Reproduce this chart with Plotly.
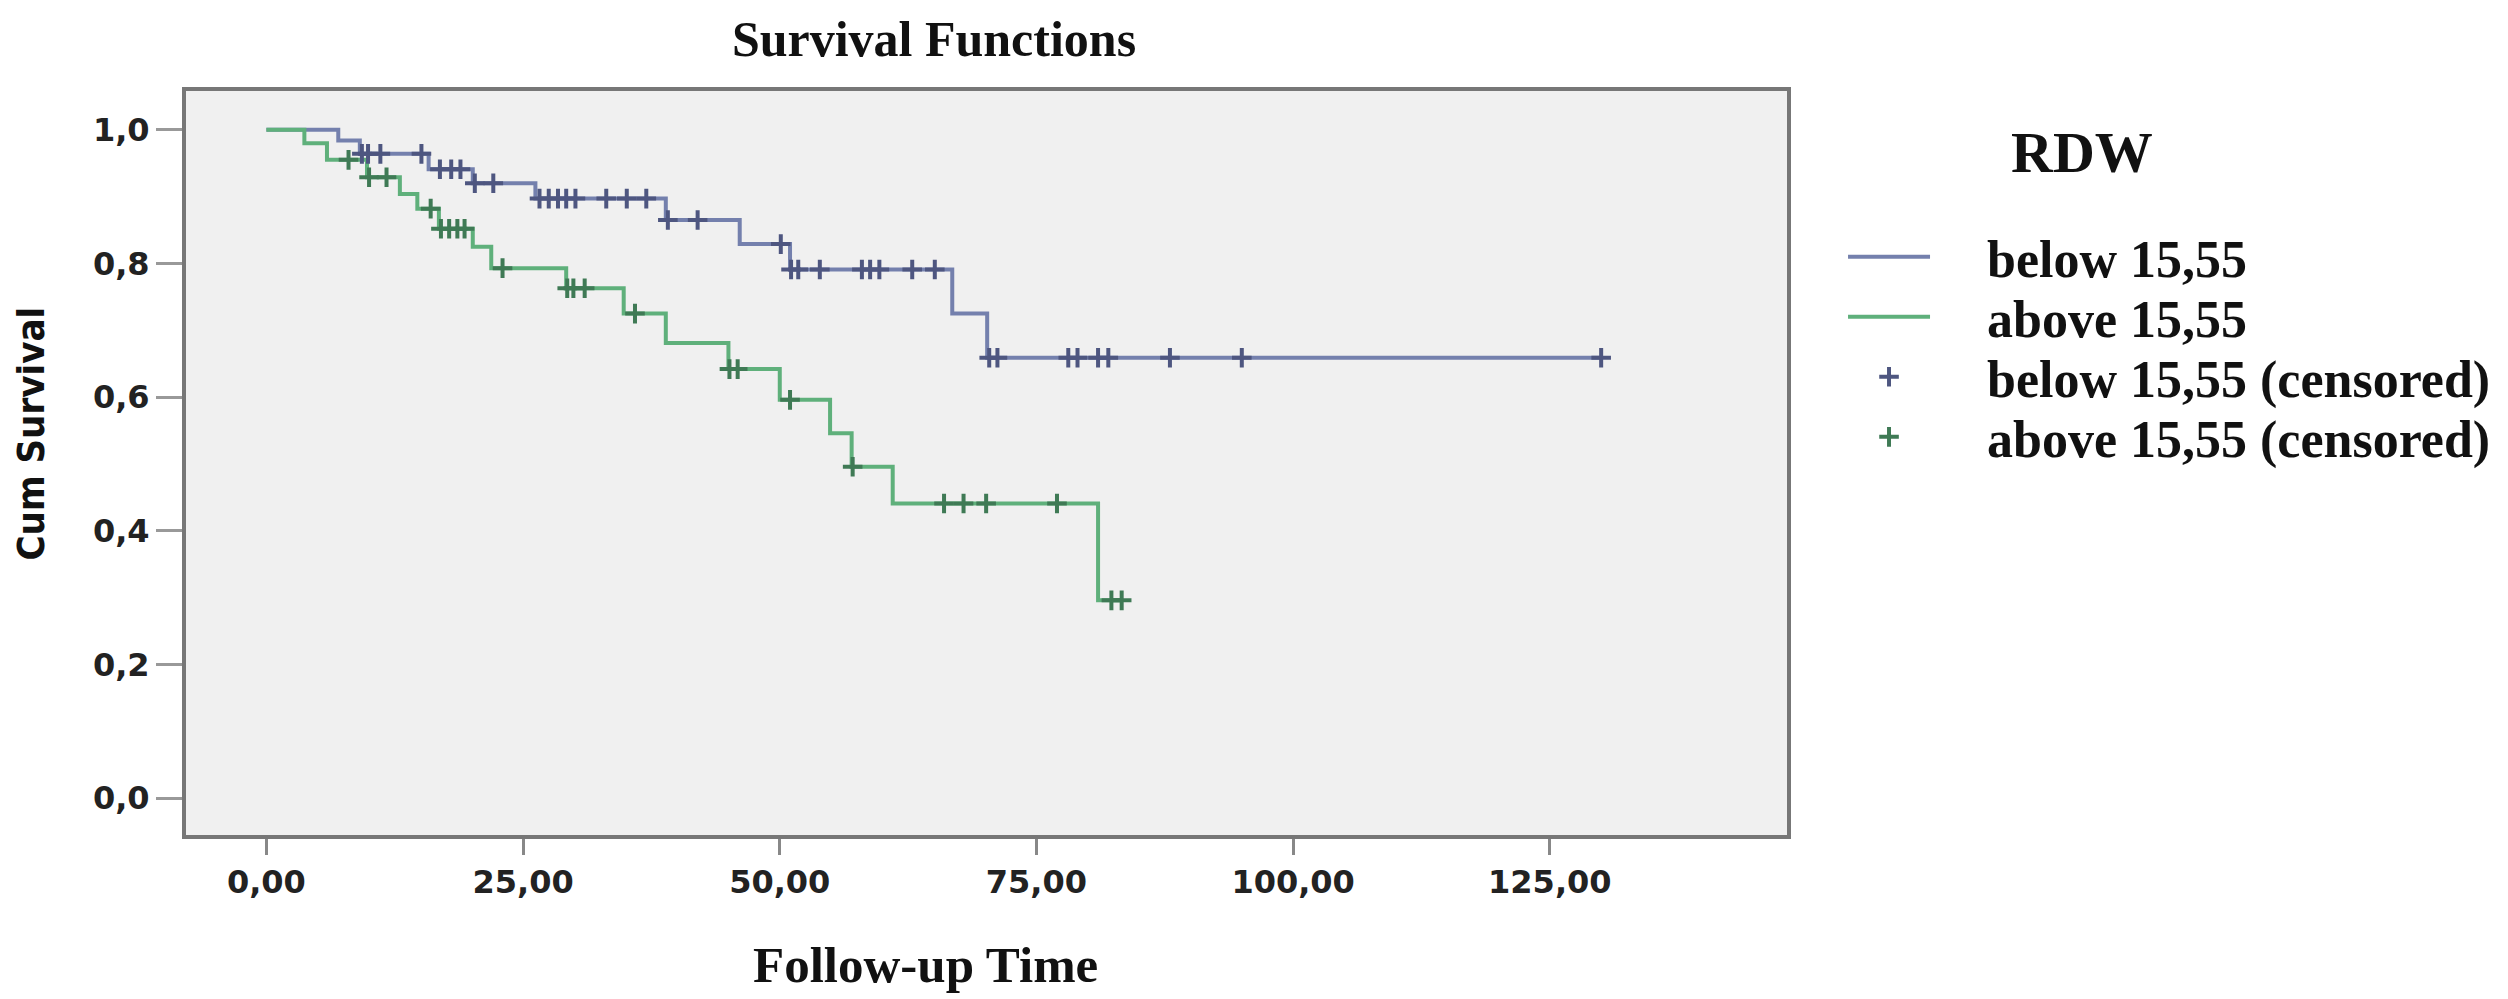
import numpy as np
import plotly.graph_objects as go

# Kaplan-Meier steps (time, cumulative survival)
below_time = [0, 7.0, 9.1, 15.8, 20.1, 26.2, 38.9, 46.1, 51.0, 66.8, 70.2, 130.0]
below_surv = [1.0, 0.984, 0.964, 0.941, 0.920, 0.897, 0.865, 0.829, 0.791, 0.725, 0.659, 0.659]
below_censored = [9.3, 9.9, 11.1, 15.1, 16.9, 18.0, 18.9, 20.3, 22.1, 26.6, 27.5, 28.4,
                  29.2, 30.1, 33.1, 35.1, 37.0, 39.1, 42.0, 50.1, 51.1, 51.8, 53.9, 58.0,
                  58.8, 59.7, 62.9, 65.1, 70.4, 71.2, 78.1, 79.0, 81.0, 82.0, 88.0, 95.0, 130.0]

above_time = [0, 3.7, 5.9, 9.8, 13.0, 14.7, 16.8, 20.1, 21.9, 29.2, 34.8, 38.9, 45.0,
              50.0, 54.9, 57.0, 61.0, 81.0, 83.3]
above_surv = [1.0, 0.980, 0.955, 0.929, 0.904, 0.882, 0.852, 0.825, 0.793, 0.763, 0.725,
              0.681, 0.642, 0.596, 0.546, 0.496, 0.441, 0.296, 0.296]
above_censored = [8.0, 10.0, 11.7, 16.0, 17.0, 17.8, 18.6, 19.3, 23.0, 29.3, 29.9, 31.0,
                  35.9, 45.1, 45.9, 51.0, 57.1, 66.0, 67.9, 70.1, 77.0, 82.3, 83.3]

x_ticks = [0, 25, 50, 75, 100, 125]
y_ticks = [0.0, 0.2, 0.4, 0.6, 0.8, 1.0]

BLUE_LINE, BLUE_MARK = "#7480ad", "#4e5680"
GREEN_LINE, GREEN_MARK = "#5fb07b", "#3f7a55"
SERIF = "Liberation Serif, Times New Roman, serif"
GAP = "\u2002\u2002"  # room between legend symbol and label


def surv_at(times, steps, surv):
    idx = np.searchsorted(steps, times, side="right") - 1
    return np.array(surv)[idx]


fig = go.Figure()
fig.add_trace(go.Scatter(x=below_time, y=below_surv, mode="lines", line_shape="hv",
                         line=dict(color=BLUE_LINE, width=4), name=GAP + "below 15,55",
                         legend="legend", showlegend=True))
fig.add_trace(go.Scatter(x=above_time, y=above_surv, mode="lines", line_shape="hv",
                         line=dict(color=GREEN_LINE, width=4), name=GAP + "above 15,55",
                         legend="legend2", showlegend=True))
fig.add_trace(go.Scatter(x=below_censored, y=surv_at(below_censored, below_time, below_surv),
                         mode="markers", name=GAP + "below 15,55 (censored)", legend="legend3",
                         showlegend=True,
                         marker=dict(symbol="cross-thin-open", size=14, color=BLUE_MARK,
                                     line=dict(color=BLUE_MARK, width=4))))
fig.add_trace(go.Scatter(x=above_censored, y=surv_at(above_censored, above_time, above_surv),
                         mode="markers", name=GAP + "above 15,55 (censored)", legend="legend4",
                         showlegend=True,
                         marker=dict(symbol="cross-thin-open", size=14, color=GREEN_MARK,
                                     line=dict(color=GREEN_MARK, width=4))))

tick_font = dict(family="DejaVu Sans", size=32, weight="bold", color="#222")
legend_font = dict(family=SERIF, size=52, color="#111", weight="bold")


def legend_at(y):
    # one entry per legend so the rows sit as tightly as in the original
    return dict(x=1.035, xanchor="left", y=y, yanchor="middle", itemwidth=82,
                bgcolor="rgba(0,0,0,0)", font=legend_font, visible=True)


fig.update_layout(
    width=2500, height=991,
    margin=dict(l=178, r=716, t=83, b=164),
    paper_bgcolor="white", plot_bgcolor="#f0f0f0",
    separators=", ",
    showlegend=True,
    title=dict(text="<b>Survival Functions</b>", x=0.3704, xanchor="center",
               y=1 - 30 / 991, yanchor="middle", font=dict(family=SERIF, size=50, color="#111")),
    xaxis=dict(range=[-7.83, 148.1], tickvals=x_ticks, tickformat=".2f", showgrid=False,
               zeroline=False, showline=True, mirror=True, linecolor="#777", linewidth=4,
               ticks="outside", ticklen=16, tickwidth=3, tickcolor="#888", tickfont=tick_font),
    yaxis=dict(range=[-0.055, 1.058], tickvals=y_ticks, tickformat=".1f", showgrid=False,
               zeroline=False, showline=True, mirror=True, linecolor="#777", linewidth=4,
               ticks="outside", ticklen=26, tickwidth=3, tickcolor="#999", tickfont=tick_font),
    legend=legend_at(0.7769),
    legend2=legend_at(0.6962),
    legend3=legend_at(0.6156),
    legend4=legend_at(0.5349),
    annotations=[
        dict(text="<b>Follow-up Time</b>", xref="paper", yref="paper", x=0.462, y=-0.1747,
             showarrow=False, xanchor="center", yanchor="middle",
             font=dict(family=SERIF, size=51, color="#111")),
        dict(text="<b>Cum Survival</b>", xref="paper", yref="paper", x=-0.0971, y=0.539,
             showarrow=False, xanchor="center", yanchor="middle", textangle=-90,
             font=dict(family="Liberation Sans Narrow, DejaVu Sans Condensed, sans-serif",
                       size=38, color="#111")),
        dict(text="<b>RDW</b>", xref="paper", yref="paper", x=1.1843, y=0.918,
             showarrow=False, xanchor="center", yanchor="middle",
             font=dict(family=SERIF, size=58, color="#111")),
    ],
)

fig.write_html("out.html")
